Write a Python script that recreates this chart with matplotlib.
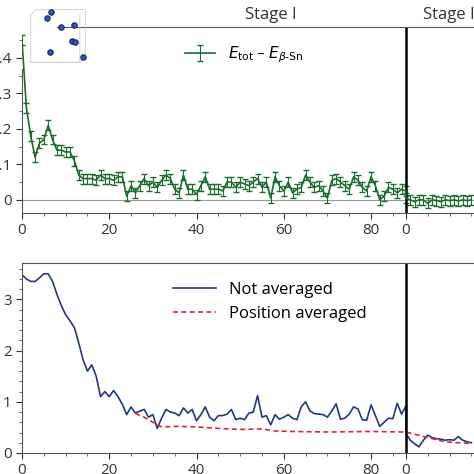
import numpy as np
import matplotlib
matplotlib.use("Agg")
from matplotlib import pyplot as plt

plt.rcParams['font.family'] = ['Open Sans', 'DejaVu Sans']

# stage I / stage II energies (top panel)
e_stage1 = [0.45, 0.26, 0.18, 0.12, 0.16, 0.17, 0.21, 0.17, 0.14, 0.14, 0.135, 0.135, 0.11, 0.07, 0.06,
            0.06, 0.06, 0.055, 0.07, 0.06, 0.06, 0.055, 0.065, 0.065, 0.01, 0.04, 0.02, 0.04, 0.06, 0.04,
            0.05, 0.035, 0.055, 0.07, 0.06, 0.03, 0.02, 0.07, 0.03, 0.03, 0.015, 0.04, 0.065, 0.03, 0.03,
            0.03, 0.025, 0.05, 0.05, 0.035, 0.05, 0.045, 0.04, 0.05, 0.06, 0.035, 0.05, 0.005, 0.065, 0.04,
            0.025, 0.05, 0.02, 0.03, 0.035, 0.07, 0.05, 0.035, 0.04, 0.025, 0.005, 0.055, 0.06, 0.05, 0.04,
            0.03, 0.065, 0.055, 0.035, 0.025, 0.065, 0.04, 0.0, 0.01, 0.035, 0.03, 0.02, 0.03, 0.025]
e_stage2 = [0.005, 0.0, -0.005, 0.0, 0.0, -0.01, 0.0, -0.002, -0.005, 0.0, -0.002, 0.0, -0.003, 0.0, -0.002, 0.0]
e_err = 0.014

# bottom panel
na_stage1 = [3.48, 3.4, 3.35, 3.35, 3.42, 3.5, 3.5, 3.35, 3.1, 2.88, 2.7, 2.58, 2.45, 2.15, 1.82, 1.6, 1.72,
             1.5, 1.1, 1.2, 1.1, 1.22, 1.1, 0.95, 0.75, 0.9, 0.78, 0.82, 0.85, 0.7, 0.75, 0.48, 0.68, 0.85,
             0.8, 0.78, 0.73, 0.88, 0.78, 0.85, 0.63, 0.75, 0.9, 0.7, 0.63, 0.73, 0.73, 0.76, 0.85, 0.65,
             0.68, 0.65, 0.78, 0.8, 1.12, 0.7, 0.73, 0.55, 0.75, 0.66, 0.7, 0.75, 0.68, 0.65, 0.9, 1.0, 0.82,
             0.77, 0.76, 0.75, 0.7, 0.82, 0.96, 0.66, 0.68, 0.76, 0.9, 0.86, 0.65, 0.64, 0.94, 0.73, 0.52,
             0.6, 0.68, 0.67, 0.97, 0.76, 0.92]
na_stage2 = [0.38, 0.25, 0.18, 0.12, 0.25, 0.35, 0.3, 0.28, 0.27, 0.25, 0.26, 0.25, 0.32, 0.25, 0.22, 0.2]
pa_x1 = [26, 27, 28, 29, 30, 31, 32, 36, 40, 45, 50, 55, 58, 62, 70, 80, 88]
pa_stage1 = [0.78, 0.73, 0.7, 0.65, 0.6, 0.55, 0.51, 0.52, 0.51, 0.48, 0.46, 0.47, 0.43, 0.42, 0.41, 0.42, 0.41]
pa_x2 = [5, 6, 7, 8, 9, 10, 11, 12, 13, 14, 15]
pa_stage2 = [0.3, 0.28, 0.26, 0.24, 0.22, 0.21, 0.21, 0.2, 0.2, 0.19, 0.18]

# inset atom positions (unit box)
atoms1_x = [0.3, 0.38, 0.55, 0.8, 0.75, 0.82, 0.35, 0.95]
atoms1_y = [0.85, 0.95, 0.68, 0.7, 0.4, 0.38, 0.2, 0.1]

offset = len(e_stage1) - 1
x1 = np.arange(len(e_stage1))
x2 = np.arange(len(e_stage2)) + offset
green = '#1e6b2f'
xmax = 103.6

fig = plt.figure(figsize=(4.74, 4.74), dpi=100)
ax1 = fig.add_axes([22 / 474, 1 - 213 / 474, 1 - 22 / 474, 186 / 474])
ax2 = fig.add_axes([22 / 474, 1 - 453 / 474, 1 - 22 / 474, 190 / 474])

ax1.axhline(0, color='#999999', lw=0.8)
ax1.errorbar(np.concatenate([x1, x2]), e_stage1 + e_stage2, yerr=e_err, color=green, lw=1.2,
             capsize=2, elinewidth=0.8, label=r'$E_{\rm tot}$ – $E_{\beta\text{-}\rm Sn}$')
ax1.set_yticks([0, 0.1, 0.2, 0.3, 0.4])
ax1.set_yticklabels(['0', '0.1', '0.2', '0.3', '0.4'])
ax1.set_yticks(np.arange(0, 0.46, 0.05), minor=True)
ax1.set_ylim(-0.037, 0.487)
ax1.legend(loc='upper left', bbox_to_anchor=(0.33, 0.98), frameon=False, fontsize=11, handlelength=2)
ax1.text(57, 0.51, 'Stage I', ha='center', fontsize=12, color='#333333')
ax1.text(offset + 10.3, 0.51, 'Stage II', ha='center', fontsize=12, color='#333333')

ax2.plot(np.concatenate([x1, x2]), na_stage1 + na_stage2, color='#233a7a', lw=1.2, label='Not averaged')
ax2.plot(pa_x1 + [offset + v for v in pa_x2], pa_stage1 + pa_stage2, color='#d9263a', lw=1.2,
         ls=(0, (3, 2)), label='Position averaged')
ax2.set_yticks([0, 1, 2, 3])
ax2.set_yticks(np.arange(0, 3.7, 0.2), minor=True)
ax2.set_ylim(0, 3.71)
ax2.legend(loc='upper left', bbox_to_anchor=(0.3, 0.98), frameon=False, fontsize=12, handlelength=2.6)

for ax in (ax1, ax2):
    ax.set_xlim(0, xmax)
    ax.axvline(offset, color='black', lw=1.8)
    ax.set_xticks([0, 20, 40, 60, 80, offset])
    ax.set_xticklabels(['0', '20', '40', '60', '80', '0'])
    ax.set_xticks([5, 10, 15, 25, 30, 35, 45, 50, 55, 65, 70, 75, 85, offset + 5, offset + 10, offset + 15],
                  minor=True)
    ax.spines['right'].set_visible(False)
    for s in ax.spines.values():
        s.set_color('#555555')
    ax.tick_params(colors='#333333', labelsize=11, length=4, width=0.8)
    ax.tick_params(which='minor', length=2, width=0.6, colors='#555555')
ax1.spines['top'].set_bounds(8, xmax)
ax1.spines['left'].set_bounds(-0.037, 0.37)

# crystal insets
ins = fig.add_axes([28 / 474, 1 - 65 / 474, 60 / 474, 58 / 474])
ins.scatter(atoms1_x, atoms1_y, s=14, color='#3a56b0', edgecolor='#1c2f7a', zorder=3)
ins.plot([0, 0.9, 1, 1, 0.1, 0, 0, 0.9, 0.9], [0, 0, 0.1, 1, 1, 0.9, 0, 0, 0.9], color='#cccccc', lw=0.6)
ins.set_xlim(-0.05, 1.05)
ins.set_ylim(-0.05, 1.05)
ins.axis('off')

fig.savefig('out.png', dpi=100)
